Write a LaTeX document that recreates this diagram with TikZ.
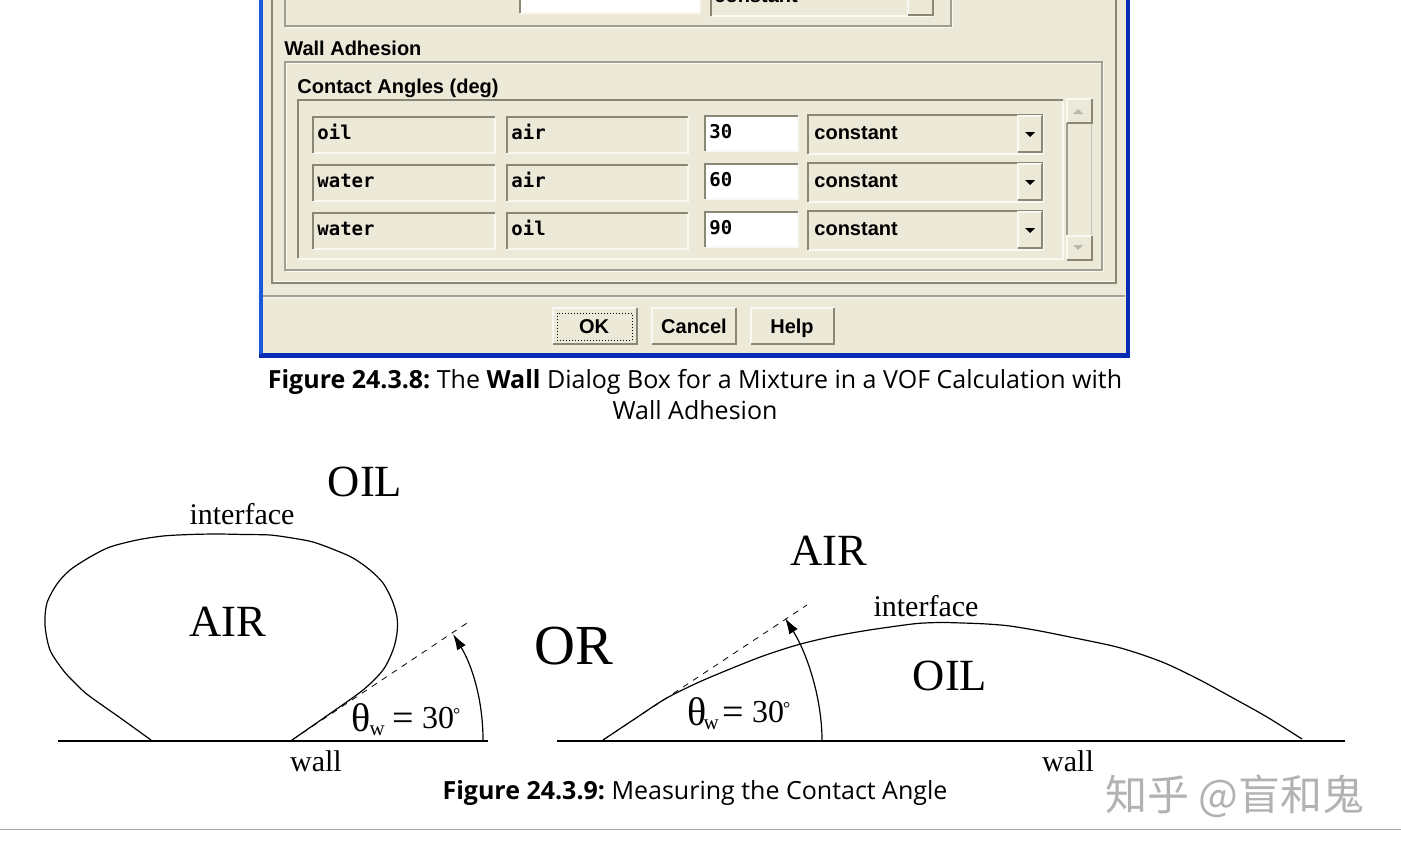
\documentclass[tikz,border=0pt]{standalone}
\usepackage{fontspec}
\setmainfont{Liberation Serif}
\newfontfamily\capfont{Open Sans}
\newfontfamily\dlgfont{Liberation Sans}
\newfontfamily\fieldfont{DejaVu Sans Mono}
\newfontfamily\markfont{Noto Sans CJK SC}
\usetikzlibrary{arrows.meta}
\definecolor{dlgback}{HTML}{ECE9D8}
\definecolor{dlgdark}{HTML}{8A8874}
\definecolor{winblue}{HTML}{0A2CB4}
\definecolor{winleft}{HTML}{1A5AD8}
\tikzset{>={Latex[length=8pt,width=5pt]}}
\tikzset{
  dlgtext/.style={inner sep=0pt,anchor=base west,font=\dlgfont\fontsize{10}{12}\selectfont\bfseries},
  fieldtext/.style={inner sep=0pt,anchor=base west,font=\fieldfont\fontsize{9.5}{12}\selectfont\bfseries},
  captext/.style={inner sep=0pt,anchor=base,font=\capfont\fontsize{12.5}{14}\selectfont\frenchspacing},
  smalltext/.style={inner sep=0pt,font=\fontsize{15}{18}\selectfont},
  bigtext/.style={inner sep=0pt,font=\fontsize{22.3}{26}\selectfont},
  anglelabel/.style={inner sep=0pt,anchor=base west,font=\fontsize{16}{18}\selectfont},
  bevel/.style={line width=0.8pt,dlgdark},
  shine/.style={line width=0.8pt,white!70!dlgback},
  curveline/.style={line width=0.6pt}
}
\newcommand{\sunkbox}[4]{
  \draw[shine] (#3,#2) -- (#3,#4) -- (#1,#4);
  \draw[bevel] (#1,#4) -- (#1,#2) -- (#3,#2);
}
\newcommand{\upbox}[4]{
  \draw[shine] (#1,#4) -- (#1,#2) -- (#3,#2);
  \draw[bevel] (#3,#2) -- (#3,#4) -- (#1,#4);
}
\newcommand{\etchbox}[4]{
  \draw[line width=0.5pt,white!70!dlgback] (#1+1,#2+1) rectangle (#3+1,#4+1);
  \draw[line width=0.6pt,dlgdark!80] (#1,#2) rectangle (#3,#4);
}
\newcommand{\anglemark}[2]{\raisebox{-1.5pt}{\fontsize{20}{20}\selectfont θ}\kern#1\raisebox{-3.5pt}{\fontsize{10.5}{10}\selectfont w}\kern#2\raisebox{-1pt}{\fontsize{19}{19}\selectfont =}\kern4pt 30\kern-0.5pt\raisebox{4pt}{\fontsize{9}{9}\selectfont °}}

\begin{document}
\begin{tikzpicture}[x=0.5pt,y=-0.5pt]
  \useasboundingbox (0,0) rectangle (1401,852);
  \fill[white] (0,0) rectangle (1401,852);
  % dialog window
  \fill[winblue] (259,0) rectangle (1130,358);
  \fill[winleft] (259,0) rectangle (263,354);
  \fill[dlgback] (263,0) rectangle (1126,353);
  \draw[bevel] (272,0) -- (272,283) -- (1116,283) -- (1116,0);
  \draw[shine,line width=0.5pt] (274,281) -- (1114,281);
  \draw[line width=0.6pt,dlgdark!80] (263,296) -- (1125,296);
  \draw[shine,line width=0.5pt] (263,297) -- (1125,297);
  \draw[line width=0.6pt,dlgdark!80] (285,0) -- (285,26) -- (951,26) -- (951,0);
  \draw[shine,line width=0.5pt] (286,27) -- (952,27) -- (952,0);
  \fill[white] (520,0) rectangle (700,12);
  \sunkbox{520}{-4}{700}{13}
  \sunkbox{711}{-4}{933}{16}
  \upbox{908}{-4}{933}{15}
  \node[dlgtext] (topcombo) at (714,2) {constant};
  \node[dlgtext] (adhesion) at (284,55) {Wall Adhesion};
  \etchbox{285}{62}{1102}{270}
  \node[dlgtext] (angles) at (297,93) {Contact Angles (deg)};
  \draw[bevel] (298,258) -- (298,100) -- (1063,100);
  \draw[shine] (299,259) -- (1063,259) -- (1063,101);
  % table rows
  \foreach \rowy/\first/\second/\val in {0/oil/air/30,48/water/air/60,96/water/oil/90} {
    \sunkbox{313}{117+\rowy}{495}{153+\rowy}
    \sunkbox{507}{117+\rowy}{688}{153+\rowy}
    \fill[white] (705,116+\rowy) rectangle (798,151+\rowy);
    \sunkbox{705}{116+\rowy}{798}{151+\rowy}
    \sunkbox{808}{115+\rowy}{1043}{154+\rowy}
    \upbox{1018}{116+\rowy}{1042}{152+\rowy}
    \fill (1025,132+\rowy) -- (1035,132+\rowy) -- (1030,137+\rowy) -- cycle;
    \node[fieldtext] at (317,139+\rowy) {\first};
    \node[fieldtext] at (511,139+\rowy) {\second};
    \node[fieldtext] at (709,138+\rowy) {\val};
    \node[dlgtext] at (814,139+\rowy) {constant};
  }
  % scroll bar
  \draw[line width=0.6pt,dlgdark!80] (1067,123) -- (1067,236);
  \draw[line width=0.5pt,dlgdark!50] (1091,123) -- (1091,236);
  \upbox{1067}{99}{1092}{123}
  \upbox{1067}{236}{1092}{260}
  \fill[dlgdark!60] (1073,114) -- (1083,114) -- (1078,109) -- cycle;
  \fill[dlgdark!60] (1073,245) -- (1083,245) -- (1078,250) -- cycle;
  % buttons
  \upbox{553}{308}{637}{344}
  \upbox{652}{308}{736}{344}
  \upbox{751}{308}{834}{344}
  \draw[line width=0.5pt,densely dotted] (557,313) rectangle (632,340);
  \node[dlgtext,anchor=base] (okbtn) at (594,333) {OK};
  \node[dlgtext,anchor=base] (cancelbtn) at (694,333) {Cancel};
  \node[dlgtext,anchor=base] (helpbtn) at (792,333) {Help};
  % captions
  \node[captext] (capa) at (695,388) {\textbf{Figure 24.3.8:} The \textbf{Wall} Dialog Box for a Mixture in a VOF Calculation with};
  \node[captext] (capb) at (695,419) {Wall Adhesion};
  \node[captext] (capc) at (695,799) {\textbf{Figure 24.3.9:} Measuring the Contact Angle};
  % left drop
  \draw[line width=0.6pt] (58,741) -- (488,741);
  \draw[curveline] plot[smooth,tension=0.5] coordinates {(151,740) (119,717) (88,695) (74,682) (63,670) (50,650) (45,625) (47,603) (57,584) (70,570) (90,557) (110,547) (137,540) (163,536) (190,534.5) (217,534) (245,534.5) (270,535) (292,538) (313,542) (335,550) (353,558) (370,570) (383,583) (392,600) (397,617) (397,633) (393,650) (383,670) (363,690) (328,715) (292,740)};
  \draw[line width=0.4pt,dashed,dash pattern=on 3pt off 3pt] (292,740) -- (467,623);
  \draw[->,curveline] (483,740) .. controls (483,700) and (472,665) .. (453,634);
  \node[bigtext] (oilleft) at (365,482) {OIL};
  \node[bigtext] (airleft) at (228,622) {AIR};
  \node[smalltext] (ifaceleft) at (242,514) {interface};
  \node[smalltext] (wallleft) at (316,761) {wall};
  \node[anglelabel] (angleleft) at (351,728) {\anglemark{-0.5pt}{4pt}};
  \node[inner sep=0pt,font=\fontsize{28.3}{32}\selectfont] (orword) at (574,646) {OR};
  % right drop
  \draw[line width=0.6pt] (557,741) -- (1345,741);
  \draw[curveline] plot[smooth,tension=0.5] coordinates {(603,740) (633,720) (665,699) (697,683) (730,669) (763,656) (797,645) (830,637) (863,631) (890,627) (917,623.5) (940,622.5) (963,623) (987,624) (1010,626) (1040,631) (1070,637) (1113,646) (1140,654) (1167,664) (1200,680) (1233,698) (1267,717) (1302,739)};
  \draw[line width=0.4pt,dashed,dash pattern=on 3pt off 3pt] (603,740) -- (807,605);
  \draw[->,curveline] (822,740) .. controls (822,700) and (808,655) .. (785,618);
  \node[bigtext] (airright) at (829,551) {AIR};
  \node[bigtext] (oilright) at (950,676) {OIL};
  \node[smalltext] (ifaceright) at (926,606) {interface};
  \node[smalltext] (wallright) at (1068,761) {wall};
  \node[anglelabel] (angleright) at (687,722) {\anglemark{-1.5pt}{2pt}};
  % footer
  \node[inner sep=0pt,text=black!30,font=\markfont\fontsize{21}{22}\selectfont] (mark) at (1235,796) {知乎 @盲和鬼};
  \draw[line width=0.5pt,black!35] (0,829) -- (1401,829);
\end{tikzpicture}
\end{document}
